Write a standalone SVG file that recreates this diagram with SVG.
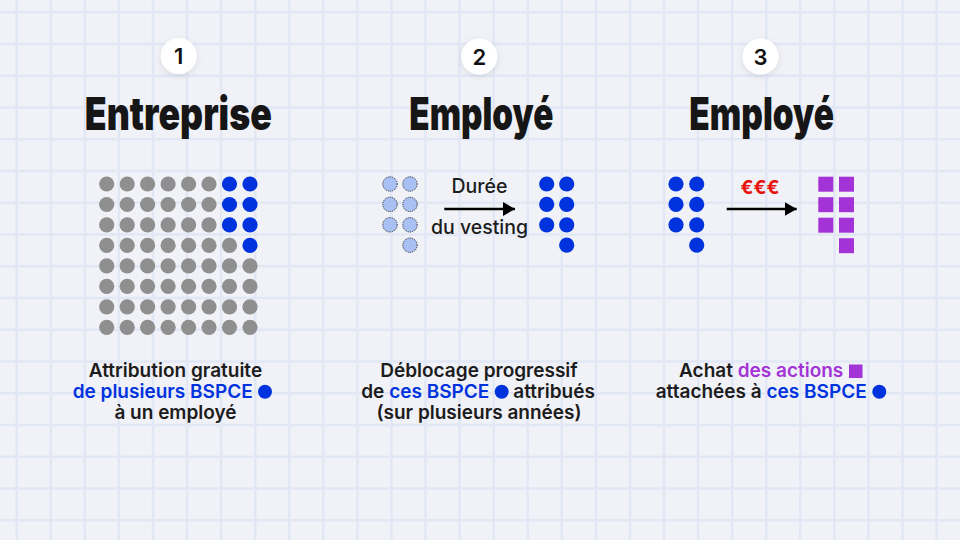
<svg xmlns="http://www.w3.org/2000/svg" width="960" height="540" viewBox="0 0 960 540">
<defs>
<style>
.grid{stroke:#e2e7f6;stroke-width:2.4;fill:none}
.num{font-family:Inter,"Liberation Sans",sans-serif;font-weight:600;font-size:22px;fill:#111;text-anchor:middle}
.title{font-family:Inter,"DejaVu Sans",sans-serif;font-weight:900;font-size:46px;fill:#161616;text-anchor:middle}
.cap{font-family:Inter,"Liberation Sans",sans-serif;font-weight:600;font-size:19px;fill:#1c1c1c}
.blue{fill:#0033dd}
.purple{fill:#a333d6}
.g{fill:#8f8f8f}
.b{fill:#0033dd}
.l{fill:#a9c0f5;stroke:#222;stroke-width:1;stroke-dasharray:1 1}
.sq{fill:#a333d6}
.arrow{stroke:#000;stroke-width:2.5;fill:none}
.lbl{font-family:Inter,"Liberation Sans",sans-serif;font-weight:500;font-size:19.5px;fill:#1c1c1c;text-anchor:middle}
</style>
<filter id="sh" x="-50%" y="-50%" width="200%" height="200%">
<feDropShadow dx="0" dy="2" stdDeviation="3" flood-color="#000" flood-opacity="0.10"/>
</filter>
<marker id="ah" markerWidth="12" markerHeight="14" refX="12" refY="7" orient="auto" markerUnits="userSpaceOnUse">
<path d="M0,0 L12,7 L0,14 Z" fill="#000"/>
</marker>
</defs>
<rect width="960" height="540" fill="#f1f2f7"/>
<path class="grid" d="M16.7 0V540M50.8 0V540M84.8 0V540M118.9 0V540M153 0V540M187 0V540M221.1 0V540M255.2 0V540M289.3 0V540M323.3 0V540M357.4 0V540M391.5 0V540M425.5 0V540M459.6 0V540M493.7 0V540M527.7 0V540M561.8 0V540M595.9 0V540M630 0V540M664 0V540M698.1 0V540M732.2 0V540M766.2 0V540M800.3 0V540M834.4 0V540M868.4 0V540M902.5 0V540M936.6 0V540M0 12.3H960M0 44H960M0 75.8H960M0 107.5H960M0 139.3H960M0 171H960M0 202.8H960M0 234.5H960M0 266.3H960M0 298H960M0 329.8H960M0 361.5H960M0 393.3H960M0 425H960M0 456.8H960M0 488.5H960M0 520.3H960"/>

<g id="step1">
<circle cx="178.7" cy="56" r="18" fill="#fff" filter="url(#sh)"/>
<text class="num" x="178.7" y="64">1</text>
<text class="title" x="178.3" y="129.5" textLength="187" lengthAdjust="spacingAndGlyphs">Entreprise</text>
<g id="grid-dots">
<g class="g">
<circle cx="106.7" cy="184" r="7.6"/><circle cx="127.2" cy="184" r="7.6"/><circle cx="147.6" cy="184" r="7.6"/><circle cx="168.1" cy="184" r="7.6"/><circle cx="188.6" cy="184" r="7.6"/><circle cx="209" cy="184" r="7.6"/>
<circle cx="106.7" cy="204.5" r="7.6"/><circle cx="127.2" cy="204.5" r="7.6"/><circle cx="147.6" cy="204.5" r="7.6"/><circle cx="168.1" cy="204.5" r="7.6"/><circle cx="188.6" cy="204.5" r="7.6"/><circle cx="209" cy="204.5" r="7.6"/>
<circle cx="106.7" cy="224.9" r="7.6"/><circle cx="127.2" cy="224.9" r="7.6"/><circle cx="147.6" cy="224.9" r="7.6"/><circle cx="168.1" cy="224.9" r="7.6"/><circle cx="188.6" cy="224.9" r="7.6"/><circle cx="209" cy="224.9" r="7.6"/>
<circle cx="106.7" cy="245.4" r="7.6"/><circle cx="127.2" cy="245.4" r="7.6"/><circle cx="147.6" cy="245.4" r="7.6"/><circle cx="168.1" cy="245.4" r="7.6"/><circle cx="188.6" cy="245.4" r="7.6"/><circle cx="209" cy="245.4" r="7.6"/><circle cx="229.5" cy="245.4" r="7.6"/>
<circle cx="106.7" cy="265.9" r="7.6"/><circle cx="127.2" cy="265.9" r="7.6"/><circle cx="147.6" cy="265.9" r="7.6"/><circle cx="168.1" cy="265.9" r="7.6"/><circle cx="188.6" cy="265.9" r="7.6"/><circle cx="209" cy="265.9" r="7.6"/><circle cx="229.5" cy="265.9" r="7.6"/><circle cx="250" cy="265.9" r="7.6"/>
<circle cx="106.7" cy="286.3" r="7.6"/><circle cx="127.2" cy="286.3" r="7.6"/><circle cx="147.6" cy="286.3" r="7.6"/><circle cx="168.1" cy="286.3" r="7.6"/><circle cx="188.6" cy="286.3" r="7.6"/><circle cx="209" cy="286.3" r="7.6"/><circle cx="229.5" cy="286.3" r="7.6"/><circle cx="250" cy="286.3" r="7.6"/>
<circle cx="106.7" cy="306.8" r="7.6"/><circle cx="127.2" cy="306.8" r="7.6"/><circle cx="147.6" cy="306.8" r="7.6"/><circle cx="168.1" cy="306.8" r="7.6"/><circle cx="188.6" cy="306.8" r="7.6"/><circle cx="209" cy="306.8" r="7.6"/><circle cx="229.5" cy="306.8" r="7.6"/><circle cx="250" cy="306.8" r="7.6"/>
<circle cx="106.7" cy="327.3" r="7.6"/><circle cx="127.2" cy="327.3" r="7.6"/><circle cx="147.6" cy="327.3" r="7.6"/><circle cx="168.1" cy="327.3" r="7.6"/><circle cx="188.6" cy="327.3" r="7.6"/><circle cx="209" cy="327.3" r="7.6"/><circle cx="229.5" cy="327.3" r="7.6"/><circle cx="250" cy="327.3" r="7.6"/>
</g>
<g class="b">
<circle cx="229.5" cy="184" r="7.6"/><circle cx="250" cy="184" r="7.6"/>
<circle cx="229.5" cy="204.5" r="7.6"/><circle cx="250" cy="204.5" r="7.6"/>
<circle cx="229.5" cy="224.9" r="7.6"/><circle cx="250" cy="224.9" r="7.6"/>
<circle cx="250" cy="245.4" r="7.6"/>
</g>
</g>
<text class="cap" x="175.5" y="377.3" text-anchor="middle">Attribution gratuite</text>
<text class="cap blue" x="252.7" y="398.3" text-anchor="end">de plusieurs BSPCE</text>
<circle class="b" cx="265" cy="391.7" r="7"/>
<text class="cap" x="175.5" y="419.3" text-anchor="middle">à un employé</text>
</g>

<g id="step2">
<circle cx="479.3" cy="56.5" r="18" fill="#fff" filter="url(#sh)"/>
<text class="num" x="479.3" y="64.5">2</text>
<text class="title" x="481.3" y="129.5" textLength="144" lengthAdjust="spacingAndGlyphs">Employé</text>
<g id="locked">
<circle class="l" cx="390" cy="184" r="7.2"/><circle class="l" cx="410" cy="184" r="7.2"/>
<circle class="l" cx="390" cy="204.4" r="7.2"/><circle class="l" cx="410" cy="204.4" r="7.2"/>
<circle class="l" cx="390" cy="224.8" r="7.2"/><circle class="l" cx="410" cy="224.8" r="7.2"/>
<circle class="l" cx="410" cy="245.2" r="7.2"/>
</g>
<g id="vested" class="b">
<circle cx="546.7" cy="184" r="7.6"/><circle cx="566.7" cy="184" r="7.6"/>
<circle cx="546.7" cy="204.4" r="7.6"/><circle cx="566.7" cy="204.4" r="7.6"/>
<circle cx="546.7" cy="224.8" r="7.6"/><circle cx="566.7" cy="224.8" r="7.6"/>
<circle cx="566.7" cy="245.2" r="7.6"/>
</g>
<text class="lbl" x="479.5" y="192.5">Durée</text>
<text class="lbl" x="479.5" y="234">du vesting</text>
<text class="cap" x="479" y="377.3" text-anchor="middle">Déblocage progressif</text>
<text class="cap" x="489.3" y="398.3" text-anchor="end">de <tspan class="blue">ces BSPCE</tspan></text>
<circle class="b" cx="501.7" cy="391.7" r="7"/>
<text class="cap" x="513.3" y="398.3">attribués</text>
<text class="cap" x="479" y="419.3" text-anchor="middle">(sur plusieurs années)</text>
</g>

<g id="step3">
<circle cx="760.5" cy="56.5" r="18" fill="#fff" filter="url(#sh)"/>
<text class="num" x="760.5" y="64.5">3</text>
<text class="title" x="761.7" y="129.5" textLength="144.7" lengthAdjust="spacingAndGlyphs">Employé</text>
<g id="bspce3" class="b">
<circle cx="676" cy="184" r="7.6"/><circle cx="696.7" cy="184" r="7.6"/>
<circle cx="676" cy="204.4" r="7.6"/><circle cx="696.7" cy="204.4" r="7.6"/>
<circle cx="676" cy="224.8" r="7.6"/><circle cx="696.7" cy="224.8" r="7.6"/>
<circle cx="696.7" cy="245.2" r="7.6"/>
</g>
<g id="actions" class="sq">
<rect x="818.3" y="176.7" width="15" height="15"/><rect x="839" y="176.7" width="15" height="15"/>
<rect x="818.3" y="197.2" width="15" height="15"/><rect x="839" y="197.2" width="15" height="15"/>
<rect x="818.3" y="217.7" width="15" height="15"/><rect x="839" y="217.7" width="15" height="15"/>
<rect x="839" y="238.2" width="15" height="15"/>
</g>
<text x="760" y="194" font-family="Inter,'Liberation Sans',sans-serif" font-weight="700" font-size="19" fill="#e8150f" text-anchor="middle">€€€</text>
<text class="cap" x="843.3" y="377.3" text-anchor="end">Achat <tspan class="purple">des actions</tspan></text>
<rect class="sq" x="849" y="364.5" width="13.5" height="13.5"/>
<text class="cap" x="866.7" y="398.3" text-anchor="end">attachées à <tspan class="blue">ces BSPCE</tspan></text>
<circle class="b" cx="879.3" cy="391.7" r="7"/>
</g>

<g id="connectors">
<line class="arrow" x1="444.3" y1="209" x2="515" y2="209" marker-end="url(#ah)"/>
<line class="arrow" x1="726.7" y1="209" x2="796.7" y2="209" marker-end="url(#ah)"/>
</g>
</svg>
